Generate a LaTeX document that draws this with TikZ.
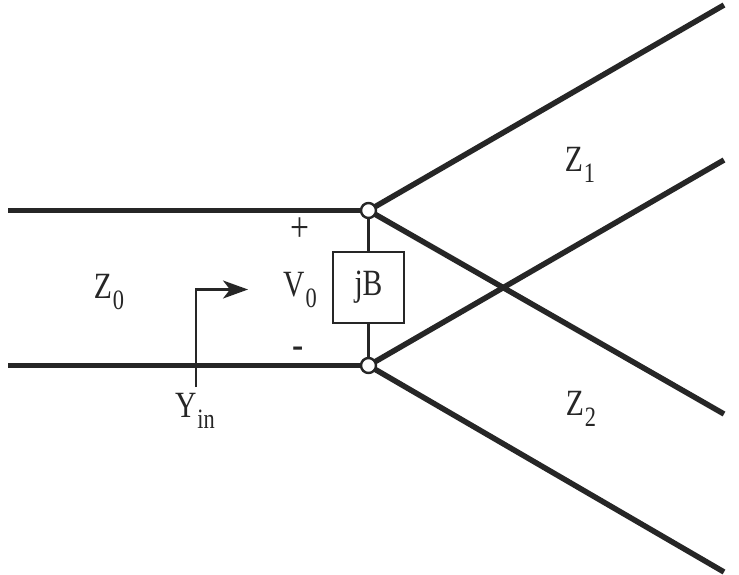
\documentclass[tikz,border=0pt]{standalone}
\usepackage{fontspec}
\setmainfont[FakeStretch=0.8]{Liberation Serif}
\usetikzlibrary{arrows.meta}
\newcommand{\lbl}[2]{#1\kern1pt\raisebox{-0.3em}{\fontsize{28}{28}\selectfont #2}}
\tikzset{
  x=1pt,y=-1pt,
  wire/.style={line width=5.5pt,draw=ink},
  thin wire/.style={line width=3pt,draw=ink},
  junction/.style={circle,draw=ink,fill=white,line width=2.4pt,minimum size=15pt,inner sep=0pt},
  labeltext/.style={text=ink,inner sep=0pt,font=\fontsize{37}{37}\selectfont},
  element/.style={draw=ink,fill=white,line width=2.2pt,minimum width=71pt,minimum height=71pt,inner sep=0pt,text=ink,font=\fontsize{37}{37}\selectfont},
  pointer/.style={line width=2.2pt,draw=ink,-{Stealth[length=25pt,width=18pt,inset=7pt]}}
}
\definecolor{ink}{HTML}{262626}
\begin{document}
\begin{tikzpicture}
\useasboundingbox (0,0) rectangle (739,574);
\fill[white] (0,0) rectangle (739,574);
\coordinate (tl) at (8,210.5);
\coordinate (bl) at (8,365.5);
\coordinate (r1) at (724,5);
\coordinate (r2) at (724,414);
\coordinate (r3) at (724,160);
\coordinate (r4) at (724,572);
\coordinate (ys) at (196,387);
\coordinate (yc) at (196,289.5);
\coordinate (ye) at (248,289.5);
\coordinate (jt0) at (368.5,210.5);
\coordinate (jb0) at (368.5,365.5);
\draw[thin wire] (jt0) -- (jb0);
\draw[wire] (tl) -- (jt0);
\draw[wire] (bl) -- (jb0);
\draw[wire] (jt0) -- (r1);
\draw[wire] (jt0) -- (r2);
\draw[wire] (jb0) -- (r3);
\draw[wire] (jb0) -- (r4);
\draw[pointer] (ys) -- (yc) -- (ye);
\node[junction] (jt) at (jt0) {};
\node[junction] (jb) at (jb0) {};
\node[element] (box) at (368.5,287.5) {\raisebox{1pt}{jB}};
\node[labeltext] (z0) at (109,292) {\lbl{Z}{0}};
\node[labeltext] (z1) at (580,165) {\lbl{Z}{1}};
\node[labeltext] (z2) at (581,409) {\lbl{Z}{2}};
\node[labeltext] (v0) at (300,290) {\lbl{V}{0}};
\node[labeltext] (yin) at (195,411) {\lbl{Y}{in}};
\node[labeltext,font=\fontsize{42}{42}\selectfont] (plus) at (300,230) {+};
\node[labeltext,font=\fontsize{42}{42}\selectfont] (minus) at (298,353) {-};
\end{tikzpicture}
\end{document}
